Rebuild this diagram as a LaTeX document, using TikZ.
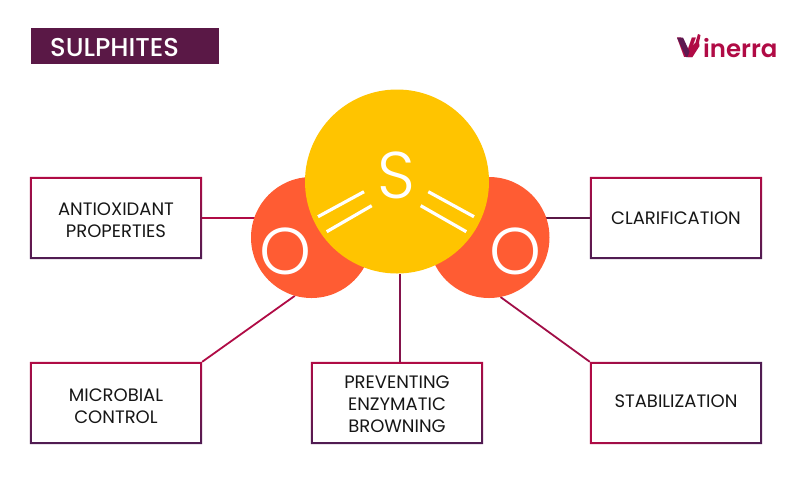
\documentclass[tikz,border=0pt]{standalone}
\usepackage{fontspec}
\usetikzlibrary{backgrounds,calc}
\setmainfont{Poppins}
\newfontfamily\atomfont{Poppins Light}
\newfontfamily\titlefont{Poppins Medium}
\newfontfamily\logofont{Poppins SemiBold}
\definecolor{crim}{HTML}{B00B45}
\definecolor{plum}{HTML}{4F1C52}
\definecolor{titlebg}{HTML}{5A1846}
\definecolor{sulfurc}{HTML}{FFC400}
\definecolor{oxyc}{HTML}{FF5C33}
\definecolor{labelc}{HTML}{161616}
\tikzset{
  boxframe/.style={rectangle,minimum width=172pt,minimum height=82pt,inner sep=0pt},
  boxlabel/.style={font=\fontsize{18pt}{22pt}\selectfont,text=labelc,align=center,inner sep=0pt},
  atom/.style={circle,inner sep=0pt,fill=#1},
  atomletter/.style={font=\atomfont\fontsize{#1}{#1}\selectfont,text=white,inner sep=0pt},
  bond/.style={draw=white,line width=3.2pt},
  link/.style={line width=1.8pt},
  vgrad/.style={top color=crim,bottom color=plum},
  hgrad/.style={left color=crim,right color=plum}
}
% #1 name, #2 centre, #3 shading style, #4 text offset, #5 text
\newcommand{\gradbox}[5]{%
  \node[boxframe] (#1) at (#2) {};
  \shade[even odd rule,#3] (#1.north west) rectangle (#1.south east)
    ([shift={(2pt,-2pt)}]#1.north west) rectangle ([shift={(-2pt,2pt)}]#1.south east);
  \node[boxlabel] (#1txt) at ([yshift=#4]#1.center) {#5};
}
\begin{document}
\begin{tikzpicture}[x=1pt,y=-1pt]
\useasboundingbox (0,0) rectangle (801,483);
% title
\node[rectangle,fill=titlebg,minimum width=188pt,minimum height=36.5pt,inner sep=0pt] (titlebar) at (125,46.2) {};
\node[font=\titlefont\fontsize{25.8pt}{25.8pt}\selectfont,text=white,inner sep=0pt,anchor=west] (titletxt) at (50,47.6) {SULPHITES};
% logo
\node[font=\logofont\fontsize{28pt}{28pt}\selectfont,inner sep=0pt,anchor=base west,text=crim] (logov) at (676.5,57) {V};
\fill[plum!85!crim] (677,37.5) -- (683,37.5) -- (692,57) -- (686,57) -- cycle;
\fill[crim] (687.5,57) -- (692,46) -- (695.5,42.5) -- (698,34) -- (700.5,35) -- (699,42.5) -- (699.5,46) -- (692.5,57) -- cycle;
\node[font=\logofont\fontsize{24.4pt}{24.4pt}\selectfont,inner sep=0pt,anchor=base west,text=crim] (logotxt) at (703,57) {inerra};
% atoms
\node[atom=oxyc,minimum size=121pt] (oxl) at (311.5,237.5) {};
\node[atom=oxyc,minimum size=121pt] (oxr) at (489,237.5) {};
\node[atom=sulfurc,minimum size=184pt] (sul) at (397,181.5) {};
\node[atomletter=66pt] (stxt) at (396.5,175) {S};
\node[atomletter=66pt] (oltxt) at (285.7,251) {O};
\node[atomletter=66pt] (ortxt) at (515,251) {O};
% bonds
\coordinate (bl1a) at (318,216.7); \coordinate (bl1b) at (364,191.7);
\coordinate (bl2a) at (326.7,231.7); \coordinate (bl2b) at (371.7,205.7);
\coordinate (br1a) at (428.3,191.7); \coordinate (br1b) at (474,216.7);
\coordinate (br2a) at (420.7,205.7); \coordinate (br2b) at (466.3,231.7);
\draw[bond] (bl1a) -- (bl1b);
\draw[bond] (bl2a) -- (bl2b);
\draw[bond] (br1a) -- (br1b);
\draw[bond] (br2a) -- (br2b);
% boxes
\gradbox{anti}{116,218}{vgrad}{-2.5pt}{ANTIOXIDANT\\PROPERTIES}
\gradbox{clar}{676,218}{vgrad}{-0.2pt}{CLARIFICATION}
\gradbox{micr}{116,403}{vgrad}{-3.5pt}{MICROBIAL\\CONTROL}
\gradbox{prev}{397,403}{vgrad}{-1.2pt}{PREVENTING\\ENZYMATIC\\BROWNING}
\gradbox{stab}{676,403}{hgrad}{1.6pt}{STABILIZATION}
% connectors
\begin{pgfonlayer}{background}
\draw[link,crim] (anti.east) -- ([xshift=6pt]oxl.west |- anti.east);
\draw[link,titlebg] (clar.west) -- ([xshift=-6pt]oxr.east |- clar.west);
\draw[link,crim] (micr.north east) -- (oxl.254);
\draw[link,color=crim!85!plum] (stab.north west) -- (oxr.281);
\draw[link,color=crim!55!plum] ([xshift=3pt]prev.north) -- ([xshift=3pt]sul.south);
\end{pgfonlayer}
\end{tikzpicture}
\end{document}
